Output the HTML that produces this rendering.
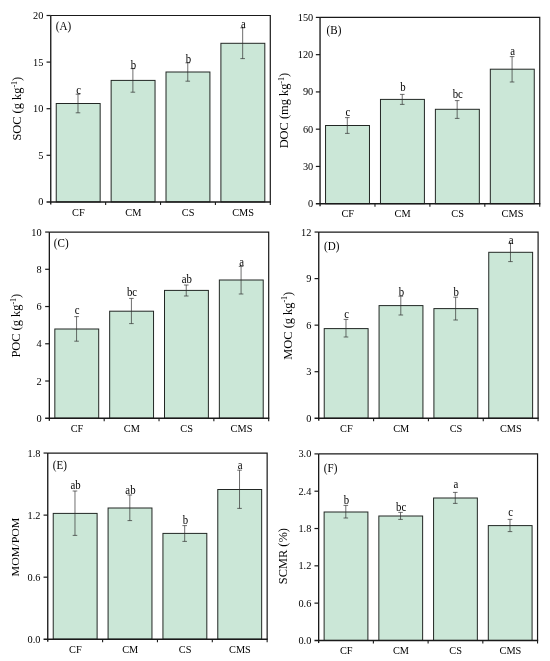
<!DOCTYPE html>
<html lang="en"><head><meta charset="utf-8"><title>Figure</title>
<style>html,body{margin:0;padding:0;background:#fff;}svg{display:block;}text{font-family:"Liberation Serif","Times New Roman",serif;fill:#000;}.t{font-size:11.0px;}.c{font-size:11.0px;}.l{font-size:11.5px;}.n{font-size:11.8px;}.y{font-size:12.4px;}</style></head><body>
<svg width="550" height="661" viewBox="0 0 550 661">
<rect width="550" height="661" fill="#ffffff"/>
<g>
<rect x="56.24" y="103.50" width="43.91" height="98.40" fill="#cbe7d7" stroke="#222724" stroke-width="1"/>
<rect x="111.13" y="80.40" width="43.91" height="121.50" fill="#cbe7d7" stroke="#222724" stroke-width="1"/>
<rect x="166.01" y="72.00" width="43.91" height="129.90" fill="#cbe7d7" stroke="#222724" stroke-width="1"/>
<rect x="220.90" y="43.30" width="43.91" height="158.60" fill="#cbe7d7" stroke="#222724" stroke-width="1"/>
<path d="M77.99 94.20V112.80M75.69 94.20h4.6M75.69 112.80h4.6" fill="none" stroke="#303030" stroke-width="0.7"/>
<path d="M132.88 68.60V92.20M130.58 68.60h4.6M130.58 92.20h4.6" fill="none" stroke="#303030" stroke-width="0.7"/>
<path d="M187.77 62.80V81.20M185.47 62.80h4.6M185.47 81.20h4.6" fill="none" stroke="#303030" stroke-width="0.7"/>
<path d="M242.66 27.80V58.60M240.36 27.80h4.6M240.36 58.60h4.6" fill="none" stroke="#303030" stroke-width="0.7"/>
<path d="M50.75 15.50H270.30V201.90" fill="none" stroke="#1a1a1a" stroke-width="1.2"/>
<path d="M50.75 15.50V204.50" fill="none" stroke="#1a1a1a" stroke-width="1.35"/>
<path d="M46.55 201.90H270.90" fill="none" stroke="#1a1a1a" stroke-width="1.5"/>
<text class="t" transform="translate(43.35 205.45) scale(0.940 1)" text-anchor="end">0</text>
<path d="M50.75 155.30h-4.2" stroke="#1a1a1a" stroke-width="1.2"/>
<text class="t" transform="translate(43.35 158.85) scale(0.940 1)" text-anchor="end">5</text>
<path d="M50.75 108.70h-4.2" stroke="#1a1a1a" stroke-width="1.2"/>
<text class="t" transform="translate(43.35 112.25) scale(0.940 1)" text-anchor="end">10</text>
<path d="M50.75 62.10h-4.2" stroke="#1a1a1a" stroke-width="1.2"/>
<text class="t" transform="translate(43.35 65.65) scale(0.940 1)" text-anchor="end">15</text>
<path d="M50.75 15.50h-4.2" stroke="#1a1a1a" stroke-width="1.2"/>
<text class="t" transform="translate(43.35 19.05) scale(0.940 1)" text-anchor="end">20</text>
<path d="M105.64 201.90v3" stroke="#1a1a1a" stroke-width="1.1"/>
<path d="M160.53 201.90v3" stroke="#1a1a1a" stroke-width="1.1"/>
<path d="M215.41 201.90v3" stroke="#1a1a1a" stroke-width="1.1"/>
<path d="M270.30 201.90v3" stroke="#1a1a1a" stroke-width="1.1"/>
<text class="c" transform="translate(78.39 215.70) scale(0.940 1)" text-anchor="middle">CF</text>
<text class="c" transform="translate(133.28 215.70) scale(0.940 1)" text-anchor="middle">CM</text>
<text class="c" transform="translate(188.17 215.70) scale(0.940 1)" text-anchor="middle">CS</text>
<text class="c" transform="translate(243.06 215.70) scale(0.940 1)" text-anchor="middle">CMS</text>
<text class="l" transform="translate(78.64 94.30) scale(0.940 1)" text-anchor="middle">c</text>
<text class="l" transform="translate(133.53 69.00) scale(0.940 1)" text-anchor="middle">b</text>
<text class="l" transform="translate(188.42 63.00) scale(0.940 1)" text-anchor="middle">b</text>
<text class="l" transform="translate(243.31 28.00) scale(0.940 1)" text-anchor="middle">a</text>
<text class="n" transform="translate(55.80 29.80) scale(0.940 1)">(A)</text>
<text class="y" transform="translate(21.20 108.70) scale(0.940 1) rotate(-90)" text-anchor="middle">SOC (g kg<tspan dy="-4.7" font-size="8px">-1</tspan><tspan dy="4.7">)</tspan></text>
</g>
<g>
<rect x="325.54" y="125.50" width="43.94" height="78.20" fill="#cbe7d7" stroke="#222724" stroke-width="1"/>
<rect x="380.47" y="99.40" width="43.94" height="104.30" fill="#cbe7d7" stroke="#222724" stroke-width="1"/>
<rect x="435.39" y="109.30" width="43.94" height="94.40" fill="#cbe7d7" stroke="#222724" stroke-width="1"/>
<rect x="490.32" y="69.20" width="43.94" height="134.50" fill="#cbe7d7" stroke="#222724" stroke-width="1"/>
<path d="M347.31 117.60V133.40M345.01 117.60h4.6M345.01 133.40h4.6" fill="none" stroke="#303030" stroke-width="0.7"/>
<path d="M402.24 94.40V104.40M399.94 94.40h4.6M399.94 104.40h4.6" fill="none" stroke="#303030" stroke-width="0.7"/>
<path d="M457.16 100.60V118.40M454.86 100.60h4.6M454.86 118.40h4.6" fill="none" stroke="#303030" stroke-width="0.7"/>
<path d="M512.09 56.60V82.00M509.79 56.60h4.6M509.79 82.00h4.6" fill="none" stroke="#303030" stroke-width="0.7"/>
<path d="M320.05 17.40H539.75V203.70" fill="none" stroke="#1a1a1a" stroke-width="1.2"/>
<path d="M320.05 17.40V206.30" fill="none" stroke="#1a1a1a" stroke-width="1.35"/>
<path d="M315.85 203.70H540.35" fill="none" stroke="#1a1a1a" stroke-width="1.5"/>
<text class="t" transform="translate(313.25 207.25) scale(0.940 1)" text-anchor="end">0</text>
<path d="M320.05 166.44h-4.2" stroke="#1a1a1a" stroke-width="1.2"/>
<text class="t" transform="translate(313.25 169.99) scale(0.940 1)" text-anchor="end">30</text>
<path d="M320.05 129.18h-4.2" stroke="#1a1a1a" stroke-width="1.2"/>
<text class="t" transform="translate(313.25 132.73) scale(0.940 1)" text-anchor="end">60</text>
<path d="M320.05 91.92h-4.2" stroke="#1a1a1a" stroke-width="1.2"/>
<text class="t" transform="translate(313.25 95.47) scale(0.940 1)" text-anchor="end">90</text>
<path d="M320.05 54.66h-4.2" stroke="#1a1a1a" stroke-width="1.2"/>
<text class="t" transform="translate(313.25 58.21) scale(0.940 1)" text-anchor="end">120</text>
<path d="M320.05 17.40h-4.2" stroke="#1a1a1a" stroke-width="1.2"/>
<text class="t" transform="translate(313.25 20.95) scale(0.940 1)" text-anchor="end">150</text>
<path d="M374.98 203.70v3" stroke="#1a1a1a" stroke-width="1.1"/>
<path d="M429.90 203.70v3" stroke="#1a1a1a" stroke-width="1.1"/>
<path d="M484.82 203.70v3" stroke="#1a1a1a" stroke-width="1.1"/>
<path d="M539.75 203.70v3" stroke="#1a1a1a" stroke-width="1.1"/>
<text class="c" transform="translate(347.71 217.20) scale(0.940 1)" text-anchor="middle">CF</text>
<text class="c" transform="translate(402.64 217.20) scale(0.940 1)" text-anchor="middle">CM</text>
<text class="c" transform="translate(457.56 217.20) scale(0.940 1)" text-anchor="middle">CS</text>
<text class="c" transform="translate(512.49 217.20) scale(0.940 1)" text-anchor="middle">CMS</text>
<text class="l" transform="translate(347.96 116.00) scale(0.940 1)" text-anchor="middle">c</text>
<text class="l" transform="translate(402.89 91.40) scale(0.940 1)" text-anchor="middle">b</text>
<text class="l" transform="translate(457.81 98.40) scale(0.940 1)" text-anchor="middle">bc</text>
<text class="l" transform="translate(512.74 55.00) scale(0.940 1)" text-anchor="middle">a</text>
<text class="n" transform="translate(326.60 33.70) scale(0.940 1)">(B)</text>
<text class="y" transform="translate(288.00 110.60) scale(0.940 1) rotate(-90)" text-anchor="middle">DOC (mg kg<tspan dy="-4.7" font-size="8px">-1</tspan><tspan dy="4.7">)</tspan></text>
</g>
<g>
<rect x="54.83" y="329.00" width="43.87" height="89.25" fill="#cbe7d7" stroke="#222724" stroke-width="1"/>
<rect x="109.67" y="311.20" width="43.87" height="107.05" fill="#cbe7d7" stroke="#222724" stroke-width="1"/>
<rect x="164.51" y="290.40" width="43.87" height="127.85" fill="#cbe7d7" stroke="#222724" stroke-width="1"/>
<rect x="219.35" y="280.00" width="43.87" height="138.25" fill="#cbe7d7" stroke="#222724" stroke-width="1"/>
<path d="M76.57 316.60V341.20M74.27 316.60h4.6M74.27 341.20h4.6" fill="none" stroke="#303030" stroke-width="0.7"/>
<path d="M131.41 298.40V323.60M129.11 298.40h4.6M129.11 323.60h4.6" fill="none" stroke="#303030" stroke-width="0.7"/>
<path d="M186.24 285.00V296.00M183.94 285.00h4.6M183.94 296.00h4.6" fill="none" stroke="#303030" stroke-width="0.7"/>
<path d="M241.08 266.40V294.00M238.78 266.40h4.6M238.78 294.00h4.6" fill="none" stroke="#303030" stroke-width="0.7"/>
<path d="M49.35 232.05H268.70V418.25" fill="none" stroke="#1a1a1a" stroke-width="1.2"/>
<path d="M49.35 232.05V420.85" fill="none" stroke="#1a1a1a" stroke-width="1.35"/>
<path d="M45.15 418.25H269.30" fill="none" stroke="#1a1a1a" stroke-width="1.5"/>
<text class="t" transform="translate(41.65 421.80) scale(0.940 1)" text-anchor="end">0</text>
<path d="M49.35 381.01h-4.2" stroke="#1a1a1a" stroke-width="1.2"/>
<text class="t" transform="translate(41.65 384.56) scale(0.940 1)" text-anchor="end">2</text>
<path d="M49.35 343.77h-4.2" stroke="#1a1a1a" stroke-width="1.2"/>
<text class="t" transform="translate(41.65 347.32) scale(0.940 1)" text-anchor="end">4</text>
<path d="M49.35 306.53h-4.2" stroke="#1a1a1a" stroke-width="1.2"/>
<text class="t" transform="translate(41.65 310.08) scale(0.940 1)" text-anchor="end">6</text>
<path d="M49.35 269.29h-4.2" stroke="#1a1a1a" stroke-width="1.2"/>
<text class="t" transform="translate(41.65 272.84) scale(0.940 1)" text-anchor="end">8</text>
<path d="M49.35 232.05h-4.2" stroke="#1a1a1a" stroke-width="1.2"/>
<text class="t" transform="translate(41.65 235.60) scale(0.940 1)" text-anchor="end">10</text>
<path d="M104.19 418.25v3" stroke="#1a1a1a" stroke-width="1.1"/>
<path d="M159.03 418.25v3" stroke="#1a1a1a" stroke-width="1.1"/>
<path d="M213.86 418.25v3" stroke="#1a1a1a" stroke-width="1.1"/>
<path d="M268.70 418.25v3" stroke="#1a1a1a" stroke-width="1.1"/>
<text class="c" transform="translate(76.97 432.40) scale(0.940 1)" text-anchor="middle">CF</text>
<text class="c" transform="translate(131.81 432.40) scale(0.940 1)" text-anchor="middle">CM</text>
<text class="c" transform="translate(186.64 432.40) scale(0.940 1)" text-anchor="middle">CS</text>
<text class="c" transform="translate(241.48 432.40) scale(0.940 1)" text-anchor="middle">CMS</text>
<text class="l" transform="translate(77.22 314.00) scale(0.940 1)" text-anchor="middle">c</text>
<text class="l" transform="translate(132.06 296.40) scale(0.940 1)" text-anchor="middle">bc</text>
<text class="l" transform="translate(186.89 283.00) scale(0.940 1)" text-anchor="middle">ab</text>
<text class="l" transform="translate(241.73 266.00) scale(0.940 1)" text-anchor="middle">a</text>
<text class="n" transform="translate(53.80 247.00) scale(0.940 1)">(C)</text>
<text class="y" transform="translate(20.00 325.70) scale(0.940 1) rotate(-90)" text-anchor="middle">POC (g kg<tspan dy="-4.7" font-size="8px">-1</tspan><tspan dy="4.7">)</tspan></text>
</g>
<g>
<rect x="324.23" y="328.60" width="43.87" height="89.65" fill="#cbe7d7" stroke="#222724" stroke-width="1"/>
<rect x="379.07" y="305.60" width="43.87" height="112.65" fill="#cbe7d7" stroke="#222724" stroke-width="1"/>
<rect x="433.91" y="308.60" width="43.87" height="109.65" fill="#cbe7d7" stroke="#222724" stroke-width="1"/>
<rect x="488.75" y="252.30" width="43.87" height="165.95" fill="#cbe7d7" stroke="#222724" stroke-width="1"/>
<path d="M345.97 319.40V337.00M343.67 319.40h4.6M343.67 337.00h4.6" fill="none" stroke="#303030" stroke-width="0.7"/>
<path d="M400.81 296.20V315.00M398.51 296.20h4.6M398.51 315.00h4.6" fill="none" stroke="#303030" stroke-width="0.7"/>
<path d="M455.64 297.20V320.00M453.34 297.20h4.6M453.34 320.00h4.6" fill="none" stroke="#303030" stroke-width="0.7"/>
<path d="M510.48 243.20V261.60M508.18 243.20h4.6M508.18 261.60h4.6" fill="none" stroke="#303030" stroke-width="0.7"/>
<path d="M318.75 232.05H538.10V418.25" fill="none" stroke="#1a1a1a" stroke-width="1.2"/>
<path d="M318.75 232.05V420.85" fill="none" stroke="#1a1a1a" stroke-width="1.35"/>
<path d="M314.55 418.25H538.70" fill="none" stroke="#1a1a1a" stroke-width="1.5"/>
<text class="t" transform="translate(311.35 421.80) scale(0.940 1)" text-anchor="end">0</text>
<path d="M318.75 371.70h-4.2" stroke="#1a1a1a" stroke-width="1.2"/>
<text class="t" transform="translate(311.35 375.25) scale(0.940 1)" text-anchor="end">3</text>
<path d="M318.75 325.15h-4.2" stroke="#1a1a1a" stroke-width="1.2"/>
<text class="t" transform="translate(311.35 328.70) scale(0.940 1)" text-anchor="end">6</text>
<path d="M318.75 278.60h-4.2" stroke="#1a1a1a" stroke-width="1.2"/>
<text class="t" transform="translate(311.35 282.15) scale(0.940 1)" text-anchor="end">9</text>
<path d="M318.75 232.05h-4.2" stroke="#1a1a1a" stroke-width="1.2"/>
<text class="t" transform="translate(311.35 235.60) scale(0.940 1)" text-anchor="end">12</text>
<path d="M373.59 418.25v3" stroke="#1a1a1a" stroke-width="1.1"/>
<path d="M428.43 418.25v3" stroke="#1a1a1a" stroke-width="1.1"/>
<path d="M483.26 418.25v3" stroke="#1a1a1a" stroke-width="1.1"/>
<path d="M538.10 418.25v3" stroke="#1a1a1a" stroke-width="1.1"/>
<text class="c" transform="translate(346.37 432.40) scale(0.940 1)" text-anchor="middle">CF</text>
<text class="c" transform="translate(401.21 432.40) scale(0.940 1)" text-anchor="middle">CM</text>
<text class="c" transform="translate(456.04 432.40) scale(0.940 1)" text-anchor="middle">CS</text>
<text class="c" transform="translate(510.88 432.40) scale(0.940 1)" text-anchor="middle">CMS</text>
<text class="l" transform="translate(346.62 318.40) scale(0.940 1)" text-anchor="middle">c</text>
<text class="l" transform="translate(401.46 296.00) scale(0.940 1)" text-anchor="middle">b</text>
<text class="l" transform="translate(456.29 296.40) scale(0.940 1)" text-anchor="middle">b</text>
<text class="l" transform="translate(511.13 243.60) scale(0.940 1)" text-anchor="middle">a</text>
<text class="n" transform="translate(324.00 249.60) scale(0.940 1)">(D)</text>
<text class="y" transform="translate(291.50 325.70) scale(0.940 1) rotate(-90)" text-anchor="middle">MOC (g kg<tspan dy="-4.7" font-size="8px">-1</tspan><tspan dy="4.7">)</tspan></text>
</g>
<g>
<rect x="53.23" y="513.40" width="43.88" height="125.85" fill="#cbe7d7" stroke="#222724" stroke-width="1"/>
<rect x="108.08" y="508.00" width="43.88" height="131.25" fill="#cbe7d7" stroke="#222724" stroke-width="1"/>
<rect x="162.94" y="533.40" width="43.88" height="105.85" fill="#cbe7d7" stroke="#222724" stroke-width="1"/>
<rect x="217.78" y="489.50" width="43.88" height="149.75" fill="#cbe7d7" stroke="#222724" stroke-width="1"/>
<path d="M74.97 491.00V535.40M72.67 491.00h4.6M72.67 535.40h4.6" fill="none" stroke="#303030" stroke-width="0.7"/>
<path d="M129.82 495.00V520.60M127.52 495.00h4.6M127.52 520.60h4.6" fill="none" stroke="#303030" stroke-width="0.7"/>
<path d="M184.68 525.60V541.40M182.38 525.60h4.6M182.38 541.40h4.6" fill="none" stroke="#303030" stroke-width="0.7"/>
<path d="M239.52 470.20V508.40M237.22 470.20h4.6M237.22 508.40h4.6" fill="none" stroke="#303030" stroke-width="0.7"/>
<path d="M47.75 453.05H267.15V639.25" fill="none" stroke="#1a1a1a" stroke-width="1.2"/>
<path d="M47.75 453.05V641.85" fill="none" stroke="#1a1a1a" stroke-width="1.35"/>
<path d="M43.55 639.25H267.75" fill="none" stroke="#1a1a1a" stroke-width="1.5"/>
<text class="t" transform="translate(40.45 642.80) scale(0.940 1)" text-anchor="end">0.0</text>
<path d="M47.75 577.18h-4.2" stroke="#1a1a1a" stroke-width="1.2"/>
<text class="t" transform="translate(40.45 580.73) scale(0.940 1)" text-anchor="end">0.6</text>
<path d="M47.75 515.12h-4.2" stroke="#1a1a1a" stroke-width="1.2"/>
<text class="t" transform="translate(40.45 518.67) scale(0.940 1)" text-anchor="end">1.2</text>
<path d="M47.75 453.05h-4.2" stroke="#1a1a1a" stroke-width="1.2"/>
<text class="t" transform="translate(40.45 456.60) scale(0.940 1)" text-anchor="end">1.8</text>
<path d="M102.60 639.25v3" stroke="#1a1a1a" stroke-width="1.1"/>
<path d="M157.45 639.25v3" stroke="#1a1a1a" stroke-width="1.1"/>
<path d="M212.30 639.25v3" stroke="#1a1a1a" stroke-width="1.1"/>
<path d="M267.15 639.25v3" stroke="#1a1a1a" stroke-width="1.1"/>
<text class="c" transform="translate(75.38 653.00) scale(0.940 1)" text-anchor="middle">CF</text>
<text class="c" transform="translate(130.22 653.00) scale(0.940 1)" text-anchor="middle">CM</text>
<text class="c" transform="translate(185.07 653.00) scale(0.940 1)" text-anchor="middle">CS</text>
<text class="c" transform="translate(239.92 653.00) scale(0.940 1)" text-anchor="middle">CMS</text>
<text class="l" transform="translate(75.62 489.40) scale(0.940 1)" text-anchor="middle">ab</text>
<text class="l" transform="translate(130.47 494.00) scale(0.940 1)" text-anchor="middle">ab</text>
<text class="l" transform="translate(185.32 524.00) scale(0.940 1)" text-anchor="middle">b</text>
<text class="l" transform="translate(240.17 468.80) scale(0.940 1)" text-anchor="middle">a</text>
<text class="n" transform="translate(52.80 469.10) scale(0.940 1)">(E)</text>
<text class="y" transform="translate(18.70 547.00) scale(0.940 1) rotate(-90)" text-anchor="middle"><tspan font-size="11.9px">MOM/POM</tspan></text>
</g>
<g>
<rect x="324.12" y="512.00" width="43.78" height="128.45" fill="#cbe7d7" stroke="#222724" stroke-width="1"/>
<rect x="378.85" y="516.00" width="43.78" height="124.45" fill="#cbe7d7" stroke="#222724" stroke-width="1"/>
<rect x="433.57" y="498.00" width="43.78" height="142.45" fill="#cbe7d7" stroke="#222724" stroke-width="1"/>
<rect x="488.30" y="525.60" width="43.78" height="114.85" fill="#cbe7d7" stroke="#222724" stroke-width="1"/>
<path d="M345.81 505.40V518.00M343.51 505.40h4.6M343.51 518.00h4.6" fill="none" stroke="#303030" stroke-width="0.7"/>
<path d="M400.54 512.40V519.40M398.24 512.40h4.6M398.24 519.40h4.6" fill="none" stroke="#303030" stroke-width="0.7"/>
<path d="M455.26 492.40V503.40M452.96 492.40h4.6M452.96 503.40h4.6" fill="none" stroke="#303030" stroke-width="0.7"/>
<path d="M509.99 519.40V531.60M507.69 519.40h4.6M507.69 531.60h4.6" fill="none" stroke="#303030" stroke-width="0.7"/>
<path d="M318.65 453.90H537.55V640.45" fill="none" stroke="#1a1a1a" stroke-width="1.2"/>
<path d="M318.65 453.90V643.05" fill="none" stroke="#1a1a1a" stroke-width="1.35"/>
<path d="M314.45 640.45H538.15" fill="none" stroke="#1a1a1a" stroke-width="1.5"/>
<text class="t" transform="translate(311.30 644.00) scale(0.940 1)" text-anchor="end">0.0</text>
<path d="M318.65 603.14h-4.2" stroke="#1a1a1a" stroke-width="1.2"/>
<text class="t" transform="translate(311.30 606.69) scale(0.940 1)" text-anchor="end">0.6</text>
<path d="M318.65 565.83h-4.2" stroke="#1a1a1a" stroke-width="1.2"/>
<text class="t" transform="translate(311.30 569.38) scale(0.940 1)" text-anchor="end">1.2</text>
<path d="M318.65 528.52h-4.2" stroke="#1a1a1a" stroke-width="1.2"/>
<text class="t" transform="translate(311.30 532.07) scale(0.940 1)" text-anchor="end">1.8</text>
<path d="M318.65 491.21h-4.2" stroke="#1a1a1a" stroke-width="1.2"/>
<text class="t" transform="translate(311.30 494.76) scale(0.940 1)" text-anchor="end">2.4</text>
<path d="M318.65 453.90h-4.2" stroke="#1a1a1a" stroke-width="1.2"/>
<text class="t" transform="translate(311.30 457.45) scale(0.940 1)" text-anchor="end">3.0</text>
<path d="M373.38 640.45v3" stroke="#1a1a1a" stroke-width="1.1"/>
<path d="M428.10 640.45v3" stroke="#1a1a1a" stroke-width="1.1"/>
<path d="M482.82 640.45v3" stroke="#1a1a1a" stroke-width="1.1"/>
<path d="M537.55 640.45v3" stroke="#1a1a1a" stroke-width="1.1"/>
<text class="c" transform="translate(346.21 654.00) scale(0.940 1)" text-anchor="middle">CF</text>
<text class="c" transform="translate(400.94 654.00) scale(0.940 1)" text-anchor="middle">CM</text>
<text class="c" transform="translate(455.66 654.00) scale(0.940 1)" text-anchor="middle">CS</text>
<text class="c" transform="translate(510.39 654.00) scale(0.940 1)" text-anchor="middle">CMS</text>
<text class="l" transform="translate(346.46 504.00) scale(0.940 1)" text-anchor="middle">b</text>
<text class="l" transform="translate(401.19 510.60) scale(0.940 1)" text-anchor="middle">bc</text>
<text class="l" transform="translate(455.91 488.40) scale(0.940 1)" text-anchor="middle">a</text>
<text class="l" transform="translate(510.64 516.40) scale(0.940 1)" text-anchor="middle">c</text>
<text class="n" transform="translate(323.80 472.00) scale(0.940 1)">(F)</text>
<text class="y" transform="translate(287.20 556.20) scale(0.940 1) rotate(-90)" text-anchor="middle">SCMR (%)</text>
</g>
</svg></body></html>
